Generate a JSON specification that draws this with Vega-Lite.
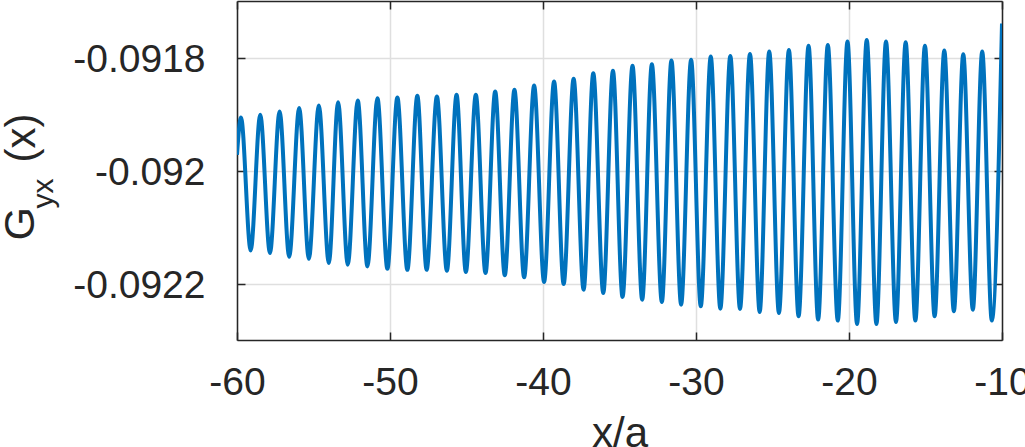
{
  "$schema": "https://vega.github.io/schema/vega-lite/v6.json",
  "description": "Oscillating G_yx(x) against x/a, MATLAB style box plot.",
  "width": 765,
  "height": 339,
  "autosize": {"type": "none"},
  "padding": {"left": 237, "top": 1, "right": 23, "bottom": 107},
  "background": "white",
  "config": {
    "view": {"stroke": null},
    "font": "Liberation Sans",
    "axis": {
      "domainColor": "#262626",
      "domainWidth": 1.5,
      "tickColor": "#262626",
      "tickWidth": 1.5,
      "tickSize": -8,
      "gridColor": "#dfdfdf",
      "gridWidth": 1.5,
      "labelFont": "Liberation Sans",
      "labelFontSize": 39,
      "labelColor": "#262626",
      "titleFont": "Liberation Sans",
      "titleFontWeight": "normal",
      "titleColor": "#262626"
    }
  },
  "data": {
    "values": [
      {"x": -60.0, "y": -0.0919723},
      {"x": -59.739, "y": -0.0919061},
      {"x": -59.106, "y": -0.0921414},
      {"x": -58.48, "y": -0.0919013},
      {"x": -57.847, "y": -0.0921462},
      {"x": -57.215, "y": -0.0918955},
      {"x": -56.588, "y": -0.0921527},
      {"x": -55.936, "y": -0.0918896},
      {"x": -55.303, "y": -0.0921563},
      {"x": -54.651, "y": -0.0918849},
      {"x": -53.999, "y": -0.0921638},
      {"x": -53.392, "y": -0.0918791},
      {"x": -52.759, "y": -0.0921668},
      {"x": -52.107, "y": -0.0918761},
      {"x": -51.474, "y": -0.0921697},
      {"x": -50.822, "y": -0.091872},
      {"x": -50.17, "y": -0.0921739},
      {"x": -49.518, "y": -0.0918708},
      {"x": -48.865, "y": -0.0921757},
      {"x": -48.213, "y": -0.0918678},
      {"x": -47.606, "y": -0.0921757},
      {"x": -46.934, "y": -0.091869},
      {"x": -46.282, "y": -0.0921774},
      {"x": -45.649, "y": -0.091866},
      {"x": -45.042, "y": -0.0921797},
      {"x": -44.39, "y": -0.091866},
      {"x": -43.758, "y": -0.0921815},
      {"x": -43.125, "y": -0.0918602},
      {"x": -42.498, "y": -0.0921855},
      {"x": -41.866, "y": -0.0918572},
      {"x": -41.233, "y": -0.0921891},
      {"x": -40.581, "y": -0.0918496},
      {"x": -39.929, "y": -0.0921974},
      {"x": -39.276, "y": -0.0918425},
      {"x": -38.65, "y": -0.0922009},
      {"x": -37.998, "y": -0.0918377},
      {"x": -37.346, "y": -0.092211},
      {"x": -36.713, "y": -0.0918279},
      {"x": -36.061, "y": -0.0922168},
      {"x": -35.428, "y": -0.0918236},
      {"x": -34.802, "y": -0.0922238},
      {"x": -34.149, "y": -0.0918148},
      {"x": -33.517, "y": -0.0922286},
      {"x": -32.884, "y": -0.091812},
      {"x": -32.232, "y": -0.0922327},
      {"x": -31.605, "y": -0.0918055},
      {"x": -30.973, "y": -0.0922374},
      {"x": -30.32, "y": -0.0918042},
      {"x": -29.688, "y": -0.0922403},
      {"x": -29.035, "y": -0.0917984},
      {"x": -28.409, "y": -0.0922445},
      {"x": -27.757, "y": -0.0917972},
      {"x": -27.124, "y": -0.092245},
      {"x": -26.472, "y": -0.0917936},
      {"x": -25.839, "y": -0.0922503},
      {"x": -25.213, "y": -0.0917896},
      {"x": -24.58, "y": -0.0922521},
      {"x": -23.928, "y": -0.0917866},
      {"x": -23.295, "y": -0.0922579},
      {"x": -22.643, "y": -0.091779},
      {"x": -22.017, "y": -0.0922639},
      {"x": -21.384, "y": -0.0917777},
      {"x": -20.732, "y": -0.0922657},
      {"x": -20.099, "y": -0.0917719},
      {"x": -19.473, "y": -0.0922715},
      {"x": -18.84, "y": -0.0917689},
      {"x": -18.207, "y": -0.0922715},
      {"x": -17.581, "y": -0.0917719},
      {"x": -16.929, "y": -0.092268},
      {"x": -16.296, "y": -0.0917731},
      {"x": -15.663, "y": -0.0922657},
      {"x": -15.037, "y": -0.091779},
      {"x": -14.404, "y": -0.0922579},
      {"x": -13.772, "y": -0.0917878},
      {"x": -13.145, "y": -0.0922491},
      {"x": -12.532, "y": -0.0917943},
      {"x": -11.906, "y": -0.0922463},
      {"x": -11.293, "y": -0.0917896},
      {"x": -10.666, "y": -0.0922657},
      {"x": -10.0, "y": -0.0917398}
    ]
  },
  "layer": [
    {
      "mark": {"type": "line", "color": "#0072BD", "strokeWidth": 4, "interpolate": "monotone", "clip": true},
      "encoding": {
        "x": {
          "field": "x", "type": "quantitative",
          "scale": {"domain": [-60, -10], "nice": false},
          "axis": {
            "values": [-60, -50, -40, -30, -20, -10],
            "labelExpr": "datum.value + ''",
            "labelPadding": 31,
            "labelFlush": false,
            "grid": true,
            "title": "x/a",
            "titleFontSize": 42,
            "titleX": 382.5,
            "titleY": 106,
            "titleAlign": "center",
            "titleBaseline": "alphabetic"
          }
        },
        "y": {
          "field": "y", "type": "quantitative",
          "scale": {"domain": [-0.0923, -0.0917], "nice": false, "zero": false},
          "axis": {
            "values": [-0.0922, -0.092, -0.0918],
            "labelExpr": "datum.value + ''",
            "labelPadding": 40,
            "labelOffset": 2,
            "grid": true,
            "title": "G",
            "titleFontSize": 43,
            "titleAngle": -90,
            "titleAlign": "left",
            "titleBaseline": "alphabetic",
            "titleX": -204,
            "titleY": 239
          }
        }
      }
    },
    {
      "mark": {"type": "line", "opacity": 0},
      "encoding": {
        "x": {
          "field": "x", "type": "quantitative",
          "axis": {"orient": "top", "values": [-60, -50, -40, -30, -20, -10], "labels": false, "grid": false, "title": null}
        },
        "y": {
          "field": "y", "type": "quantitative",
          "axis": {"orient": "right", "values": [-0.0922, -0.092, -0.0918], "labels": false, "grid": false, "title": null}
        }
      }
    },
    {
      "mark": {"type": "line", "opacity": 0},
      "encoding": {
        "x": {"field": "x", "type": "quantitative", "axis": null},
        "y": {
          "field": "y", "type": "quantitative",
          "axis": {
            "orient": "left", "domain": false, "ticks": false, "labels": false, "grid": false,
            "title": "yx",
            "titleFontSize": 30,
            "titleAngle": -90,
            "titleAlign": "left",
            "titleBaseline": "alphabetic",
            "titleX": -185,
            "titleY": 207
          }
        }
      }
    },
    {
      "mark": {"type": "line", "opacity": 0},
      "encoding": {
        "x": {"field": "x", "type": "quantitative", "axis": null},
        "y": {
          "field": "y", "type": "quantitative",
          "axis": {
            "orient": "left", "domain": false, "ticks": false, "labels": false, "grid": false,
            "title": "(x)",
            "titleFontSize": 42,
            "titleAngle": -90,
            "titleAlign": "left",
            "titleBaseline": "alphabetic",
            "titleX": -203,
            "titleY": 161
          }
        }
      }
    }
  ],
  "resolve": {"axis": {"x": "independent", "y": "independent"}}
}
